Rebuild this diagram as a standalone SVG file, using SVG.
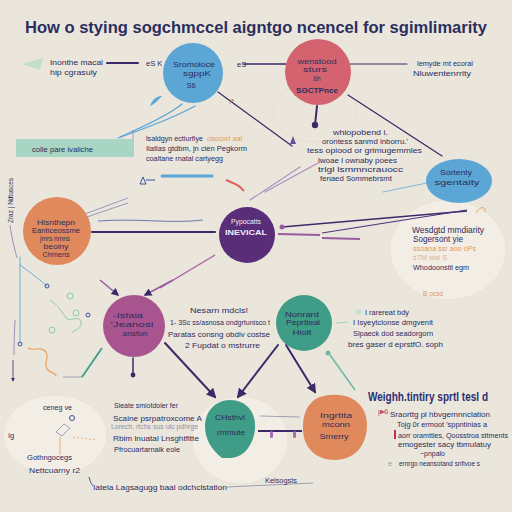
<svg xmlns="http://www.w3.org/2000/svg" width="512" height="512" viewBox="0 0 512 512">
<defs>
<style>
.t{font-family:"Liberation Sans",Arial,sans-serif;fill:#2b2d5c;font-size:7.5px}
.tl{font-family:"Liberation Sans",Arial,sans-serif;fill:#8e8fb0;font-size:7px}
.to{font-family:"Liberation Sans",Arial,sans-serif;fill:#e3965e;font-size:7.5px}
.nt{font-family:"Liberation Sans",Arial,sans-serif;fill:#2b2d5c;font-size:7.5px;text-anchor:middle}
.wt{font-family:"Liberation Sans",Arial,sans-serif;fill:#f3eef8;font-size:7.5px;text-anchor:middle}
.blob{fill:#f3eee5;stroke:#e6dfd3;stroke-width:0.8}
.dk{stroke:#3b2a6a;fill:none;stroke-linecap:round}
.lb{stroke:#5ba6d5;fill:none;stroke-linecap:round}
.lp{stroke:#a98fc2;fill:none;stroke-linecap:round}
</style>
<marker id="ah" viewBox="0 0 10 10" refX="8" refY="5" markerWidth="5" markerHeight="5" orient="auto-start-reverse">
<path d="M0,0 L10,5 L0,10 z" fill="#3b2a6a"/>
</marker>
<marker id="dot" viewBox="0 0 10 10" refX="5" refY="5" markerWidth="4" markerHeight="4">
<circle cx="5" cy="5" r="4" fill="#3b2a6a"/>
</marker>
</defs>
<rect width="512" height="512" fill="#ebe6dc"/>

<!-- background blobs -->
<g id="blobs">
<ellipse class="blob" cx="55" cy="435" rx="52" ry="40"/>
<ellipse class="blob" cx="240" cy="440" rx="48" ry="44"/>
<ellipse class="blob" cx="448" cy="250" rx="58" ry="50"/>
<ellipse cx="315" cy="112" rx="42" ry="30" fill="none" stroke="#e3dccf" stroke-width="0.8"/>
</g>

<text x="25" y="33" style="font-family:'Liberation Sans',Arial,sans-serif;font-size:16.5px;font-weight:bold;fill:#2b2f60" textLength="462" lengthAdjust="spacingAndGlyphs">How o stying sogchmccel aigntgo ncencel for sgimlimarity</text>

<!-- connectors -->
<g id="connectors">
<path d="M22,64 L43,58 L40,70 Z" fill="#b7dcc9" opacity="0.8"/>
<line class="dk" x1="107" y1="63" x2="138" y2="63" stroke-width="2"/>
<line class="dk" x1="244" y1="64" x2="286" y2="64" stroke-width="1.5"/>
<line class="dk" x1="350" y1="64" x2="407" y2="64" stroke-width="1.2"/>
<line class="dk" x1="218" y1="92" x2="292" y2="146" stroke-width="1.3"/>
<line class="dk" x1="348" y1="95" x2="442" y2="156" stroke-width="1.3"/>
<line class="dk" x1="317" y1="106" x2="315" y2="125" stroke-width="2" marker-end="url(#dot)"/>
<path class="lb" d="M195,106 C170,120 140,130 118,138" stroke-width="1.2"/>
<path class="lb" d="M182,104 C165,118 135,130 120,137" stroke-width="1.2"/>
<path d="M150,106 C153,98 158,96 162,96 C158,100 155,104 150,106 Z" fill="#5ba6d5"/>
<line x1="133" y1="130" x2="133" y2="140" stroke="#8a8aa8" stroke-width="0.8"/>
<line class="lb" x1="162" y1="176" x2="212" y2="176" stroke-width="3"/>
<path d="M140,184 L143,177 L146,184 Z" fill="none" stroke="#3a52a0" stroke-width="1"/>
<line x1="146" y1="180" x2="155" y2="180" stroke="#3a52a0" stroke-width="1"/>
<path d="M226,180 C232,183 238,184 241,188 L244,191" stroke="#e06060" stroke-width="2" fill="none"/>
<line class="dk" x1="92" y1="232" x2="215" y2="232" stroke-width="2.2"/>
<path d="M98,221 C140,218 170,224 203,220" stroke="#6b78b0" stroke-width="1" fill="none"/>
<path d="M82,215 L128,198" stroke="#8b8fc0" stroke-width="0.9"/>
<path d="M84,218 L128,203" stroke="#8b8fc0" stroke-width="0.9"/>
<line class="lp" x1="250" y1="200" x2="300" y2="167" stroke-width="1.2"/>
<line x1="160" y1="288" x2="215" y2="255" stroke="#a65a9a" stroke-width="1.2"/>
<line x1="282" y1="227" x2="467" y2="211" stroke="#3b2a6a" stroke-width="1.5"/>
<line x1="322" y1="233" x2="467" y2="210" stroke="#4a3580" stroke-width="1.2"/>
<line x1="278" y1="234" x2="320" y2="235" stroke="#9a5ba0" stroke-width="2.2"/>
<line x1="322" y1="238" x2="360" y2="239" stroke="#9a5ba0" stroke-width="2.2"/>
<circle cx="282" cy="227" r="2.5" fill="#9a5ba0"/>
<line class="lp" x1="265" y1="192" x2="318" y2="163" stroke-width="1.2"/>
<line class="lb" x1="383" y1="192" x2="427" y2="183" stroke-width="1.2" stroke-opacity="0.7"/>
<path d="M476,213 C480,206 486,206 485,212" stroke="#e8a060" fill="none" stroke-width="1"/>
<line x1="100" y1="280" x2="118" y2="295" stroke="#9a5ba0" stroke-width="1.6" marker-end="url(#ah)"/>
<line x1="173" y1="280" x2="145" y2="295" stroke="#9a5ba0" stroke-width="1.6" marker-end="url(#ah)"/>
<line class="dk" x1="133" y1="358" x2="133" y2="375" stroke-width="1.5" marker-end="url(#dot)"/>
<line x1="102" y1="348" x2="82" y2="377" stroke="#3f9c86" stroke-width="1.8"/>
<line x1="82" y1="377" x2="63" y2="377" stroke="#8a8aa8" stroke-width="0.8"/>
<line class="lb" x1="20" y1="257" x2="20" y2="343" stroke-width="0.9"/>
<path class="lb" d="M20,265 C30,272 40,280 47,286" stroke-width="0.9"/>
<circle cx="47" cy="286" r="2" fill="none" stroke="#3a52a0"/>
<circle cx="20" cy="344" r="2" fill="none" stroke="#3a52a0"/>
<circle cx="88" cy="315" r="2" fill="none" stroke="#3a52a0"/>
<path d="M50,300 C58,305 62,312 66,318 C70,322 76,316 80,320 C84,325 78,330 72,332" stroke="#8ccbb0" stroke-width="1" fill="none"/>
<circle cx="70" cy="296" r="3" fill="none" stroke="#8ccbb0"/>
<circle cx="76" cy="313" r="3" fill="none" stroke="#8ccbb0"/>
<circle cx="52" cy="330" r="3" fill="none" stroke="#8ccbb0"/>
<path d="M28,348 C34,352 40,345 46,352 C50,358 42,364 48,370 C52,374 56,372 56,376" stroke="#e8a060" stroke-width="1.2" fill="none"/>
<line x1="13" y1="360" x2="13" y2="381" stroke="#3b2a6a" stroke-width="0.8" marker-end="url(#ah)"/>
<path d="M15,320 C14,340 14,350 14,355" stroke="#7a6aa8" stroke-width="0.7" fill="none"/>
<path d="M10,225 C12,240 15,250 17,258" stroke="#7a6aa8" stroke-width="0.7" fill="none"/>
<line class="dk" x1="165" y1="343" x2="215" y2="397" stroke-width="2" marker-end="url(#ah)"/>
<line class="dk" x1="278" y1="345" x2="238" y2="397" stroke-width="2" marker-end="url(#ah)"/>
<line class="dk" x1="286" y1="345" x2="315" y2="392" stroke-width="2" marker-end="url(#ah)"/>
<line x1="330" y1="355" x2="355" y2="390" stroke="#6fb8a5" stroke-width="1.5"/>
<circle cx="328" cy="353" r="2.5" fill="#6fb8a5"/>
<line x1="260" y1="416" x2="300" y2="417" stroke="#8a8aa8" stroke-width="0.8"/>
<line x1="258" y1="431" x2="302" y2="431" stroke="#3b2a6a" stroke-width="1.8"/>
<rect x="270" y="431" width="3" height="7" rx="1.5" fill="#b06ab0"/>
<rect x="293" y="431" width="3" height="7" rx="1.5" fill="#b06ab0"/>
<line x1="227" y1="487" x2="313" y2="483" stroke="#8a8aa8" stroke-width="0.8"/>
<path d="M89,477 C90,481 91,484 93,486" stroke="#3b2a6a" stroke-width="0.8" fill="none"/>
<line x1="60" y1="437" x2="60" y2="455" stroke="#e8a060" stroke-width="0.8"/>
<line x1="73" y1="437" x2="97" y2="440" stroke="#e8a060" stroke-width="0.8" stroke-dasharray="2,2"/>
<path d="M380,410 L386,412 L380,414" fill="#c05070"/>
<rect x="394" y="430" width="2" height="9" fill="#c03060"/>
<path d="M290,144 L293,136 L296,144 Z" fill="#6a4a9a"/>
</g>

<!-- nodes -->
<g id="node-blue-top">
<circle cx="193" cy="73" r="30" fill="#5ba6d5"/>
<text class="nt" x="194" y="67" textLength="42" lengthAdjust="spacingAndGlyphs">Sromoloce</text>
<text class="nt" x="197" y="76" textLength="28" lengthAdjust="spacingAndGlyphs">sgppK</text>
<text class="nt" x="191" y="88">S6</text>
</g>
<g id="node-pink">
<circle cx="318" cy="72" r="33" fill="#d5636f"/>
<text class="nt" x="317" y="64" style="font-size:6.5px" textLength="39" lengthAdjust="spacingAndGlyphs">wenstood</text>
<text class="nt" x="315" y="72" style="font-size:6.5px" textLength="24" lengthAdjust="spacingAndGlyphs">sturs</text>
<text class="nt" x="317" y="81" style="font-size:6.5px">bh</text>
<text class="nt" x="317" y="93" font-weight="bold" textLength="42" lengthAdjust="spacingAndGlyphs">SGCTPnce</text>
</g>
<g id="node-blue-right">
<ellipse cx="459" cy="181" rx="33" ry="22" fill="#5ba6d5"/>
<text class="nt" x="456" y="175" textLength="32" lengthAdjust="spacingAndGlyphs">Sortenty</text>
<text class="nt" x="457" y="185" textLength="45" lengthAdjust="spacingAndGlyphs">sgentaity</text>
</g>
<g id="node-orange-left">
<circle cx="57" cy="231" r="34" fill="#e0895c"/>
<text class="nt" x="56" y="225" textLength="38" lengthAdjust="spacingAndGlyphs">Hisnthepn</text>
<text class="nt" x="56" y="233" textLength="48" lengthAdjust="spacingAndGlyphs">Eanticeossme</text>
<text class="nt" x="55" y="241" textLength="30" lengthAdjust="spacingAndGlyphs">jrnrs nrnns</text>
<text class="nt" x="56" y="249" textLength="25" lengthAdjust="spacingAndGlyphs">beoiny</text>
<text class="nt" x="56" y="257" textLength="27" lengthAdjust="spacingAndGlyphs">Chrnens</text>
</g>
<g id="node-purple">
<circle cx="247" cy="235" r="28" fill="#5a2d78"/>
<text class="wt" x="246" y="224" textLength="30" lengthAdjust="spacingAndGlyphs">Pypocatts</text>
<text class="wt" x="246" y="235" font-weight="bold" textLength="42" lengthAdjust="spacingAndGlyphs">INEVICAL</text>
</g>
<g id="node-magenta">
<circle cx="134" cy="326" r="31" fill="#a8558f"/>
<text class="nt" x="128" y="318" textLength="30" lengthAdjust="spacingAndGlyphs">-Isfaia</text>
<text class="nt" x="132" y="327" textLength="43" lengthAdjust="spacingAndGlyphs">'Jeanosi</text>
<text class="nt" x="135" y="336" textLength="25" lengthAdjust="spacingAndGlyphs">ansfon</text>
</g>
<g id="node-teal">
<circle cx="304" cy="323" r="28" fill="#3f9c86"/>
<text class="nt" x="302" y="317" textLength="34" lengthAdjust="spacingAndGlyphs">Nonrard</text>
<text class="nt" x="303" y="325" textLength="34" lengthAdjust="spacingAndGlyphs">Peprtteal</text>
<text class="nt" x="302" y="335" textLength="19" lengthAdjust="spacingAndGlyphs">Hiolt</text>
</g>
<g id="node-teal-bottom">
<path d="M230,400 C246,400 256,412 255,428 C254,444 244,458 230,458 L222,458 C212,450 205,440 205,426 C205,411 216,400 230,400 Z" fill="#3f9c86"/>
<text class="nt" x="230" y="420" textLength="30" lengthAdjust="spacingAndGlyphs">CHsthvl</text>
<text class="nt" x="231" y="435" textLength="28" lengthAdjust="spacingAndGlyphs">rmmute</text>
</g>
<g id="node-orange-bottom">
<path d="M330,395 C352,393 367,405 367,425 C367,446 354,460 335,460 C316,460 303,448 303,428 C303,408 312,396 330,395 Z" fill="#e0895c"/>
<text class="nt" x="336" y="418" textLength="32" lengthAdjust="spacingAndGlyphs">Ingrtita</text>
<text class="nt" x="336" y="427" textLength="28" lengthAdjust="spacingAndGlyphs">mconn</text>
<text class="nt" x="334" y="439" textLength="29" lengthAdjust="spacingAndGlyphs">Srnerry</text>
</g>
<g id="node-green-box">
<rect x="16" y="139" width="118" height="18" fill="#a9d5c5"/>
<text class="t" x="32" y="152" textLength="61" lengthAdjust="spacingAndGlyphs">colle pare ivaliche</text>
</g>

<!-- free texts -->
<g id="labels">
<text class="t" x="50" y="65" textLength="53" lengthAdjust="spacingAndGlyphs">Inonthe macal</text>
<text class="t" x="50" y="75" textLength="47" lengthAdjust="spacingAndGlyphs">hip cgrasuly</text>
<text class="t" x="146" y="66">eS K</text>
<text class="t" x="237" y="67">eS</text>
<text class="t" x="228" y="104" style="fill:#d07a40">↗</text>
<text class="t" x="417" y="66" textLength="56" lengthAdjust="spacingAndGlyphs">lemyde mt ecoral</text>
<text class="t" x="413" y="76" textLength="58" lengthAdjust="spacingAndGlyphs">Nluwentenrrity</text>

<text class="t" x="146" y="141" textLength="57" lengthAdjust="spacingAndGlyphs">lsaldgyn ectiurfiye</text>
<text class="to" x="207" y="141" textLength="35" lengthAdjust="spacingAndGlyphs">osocort aal</text>
<text class="t" x="146" y="151" textLength="101" lengthAdjust="spacingAndGlyphs">Ilatlas gtdbm, jn cien Pegkorm</text>
<text class="t" x="146" y="161" textLength="77" lengthAdjust="spacingAndGlyphs">coaltane rnatal cartyegg</text>

<text class="t" x="333" y="135" textLength="55" lengthAdjust="spacingAndGlyphs">whiopobend i.</text>
<text class="t" x="322" y="144" textLength="86" lengthAdjust="spacingAndGlyphs">orontess sanmd inborru.'</text>
<text class="t" x="307" y="153" textLength="115" lengthAdjust="spacingAndGlyphs">tess opiood or grimugemmles</text>
<text class="t" x="318" y="163" textLength="79" lengthAdjust="spacingAndGlyphs">lwoae l ownaby poees</text>
<text class="t" x="318" y="172" textLength="85" lengthAdjust="spacingAndGlyphs">trlgl lsmmncrauocc</text>
<text class="to" x="310" y="172">'</text>
<text class="t" x="320" y="181" textLength="72" lengthAdjust="spacingAndGlyphs">fenaed Sommebrsmt</text>

<text class="t" x="412" y="233" textLength="72" lengthAdjust="spacingAndGlyphs" style="font-size:8.5px">Wesdgtd mmdiarity</text>
<text class="t" x="413" y="242" textLength="50" lengthAdjust="spacingAndGlyphs" style="font-size:8.5px">Sogersont yie</text>
<text class="to" x="413" y="251" textLength="63" lengthAdjust="spacingAndGlyphs">ssoana ssr aoo oPs</text>
<text class="to" x="413" y="260" textLength="34" lengthAdjust="spacingAndGlyphs" style="opacity:0.7">sTM wai S</text>
<text class="t" x="413" y="270" textLength="56" lengthAdjust="spacingAndGlyphs">Whodoonstil egm</text>
<text class="to" x="423" y="296" textLength="20" lengthAdjust="spacingAndGlyphs">B ocsd</text>

<text class="t" transform="translate(13,223) rotate(-90)" x="0" y="0" textLength="45" lengthAdjust="spacingAndGlyphs">Zraz | Ndtusces</text>

<text class="t" x="190" y="313" textLength="58" lengthAdjust="spacingAndGlyphs">Nesarn mdcls!</text>
<text class="t" x="170" y="325" textLength="100" lengthAdjust="spacingAndGlyphs">1- 3Sc ss/asnosa ondgrtunisco t</text>
<text class="t" x="168" y="337" textLength="102" lengthAdjust="spacingAndGlyphs">Paratas consng obdiv costse</text>
<text class="t" x="185" y="348" textLength="75" lengthAdjust="spacingAndGlyphs">2 Fupdat o mstrurre</text>

<circle cx="359" cy="312" r="3" fill="#c8e2d6"/>
<text class="t" x="365" y="315" textLength="44" lengthAdjust="spacingAndGlyphs">I rarereat bdy</text>
<text class="t" x="353" y="325" textLength="80" lengthAdjust="spacingAndGlyphs">I Isyeytclonse dmgvenit</text>
<text class="t" x="353" y="336" textLength="80" lengthAdjust="spacingAndGlyphs">Slpaeck  dod seadorgorn</text>
<text class="t" x="348" y="347" textLength="95" lengthAdjust="spacingAndGlyphs">bres gaser d eprstfO. soph</text>
<line x1="336" y1="323" x2="348" y2="322" stroke="#8ccbb0" stroke-width="0.8"/>

<text class="t" x="368" y="401" textLength="120" lengthAdjust="spacingAndGlyphs" style="font-size:12px;font-weight:bold;fill:#2b2f70">Weighh.tintiry sprtl tesl d</text>
<text class="t" x="378" y="414" style="fill:#c05070">p 6</text>
<text class="t" x="390" y="417" textLength="100" lengthAdjust="spacingAndGlyphs">Sraorttg pl hbvgernnnclation</text>
<text class="t" x="397" y="427" textLength="90" lengthAdjust="spacingAndGlyphs">Tojg 0r ermoot 'sppntinias a</text>
<text class="t" x="398" y="438" textLength="110" lengthAdjust="spacingAndGlyphs">aorr oramtties, Qoosstroa sttments</text>
<text class="t" x="398" y="447" textLength="93" lengthAdjust="spacingAndGlyphs">emogester sacy tbmulatuy</text>
<text class="t" x="420" y="456" textLength="25" lengthAdjust="spacingAndGlyphs">~pnpalo</text>
<text class="t" x="388" y="466" style="fill:#6fb8a5">e</text>
<text class="t" x="399" y="466" textLength="81" lengthAdjust="spacingAndGlyphs">ernrgo neansotand snfivoe s</text>

<text class="t" x="43" y="410" textLength="29" lengthAdjust="spacingAndGlyphs">ceneg ve</text>
<circle cx="72" cy="418" r="2.5" fill="none" stroke="#3a52a0"/>
<path d="M56,432 L64,424 L70,428 L62,436 Z" fill="none" stroke="#8a8aa8" stroke-width="0.8"/>
<text class="t" x="27" y="460" textLength="45" lengthAdjust="spacingAndGlyphs">Gothngocegs</text>
<text class="t" x="29" y="473" textLength="51" lengthAdjust="spacingAndGlyphs">Nettcuarny r2</text>
<text class="t" x="8" y="438" font-size="6">Ig</text>

<text class="t" x="114" y="408" textLength="64" lengthAdjust="spacingAndGlyphs">Sieate smiotdoler fer</text>
<text class="t" x="113" y="421" textLength="89" lengthAdjust="spacingAndGlyphs">Scaine psrpatroxcome A</text>
<text class="tl" x="111" y="429" textLength="87" lengthAdjust="spacingAndGlyphs">Lorectr, rtchs sus ulc pdhrge</text>
<text class="t" x="113" y="441" textLength="86" lengthAdjust="spacingAndGlyphs">Rbim lnuatal Lnsghtfitte</text>
<text class="t" x="114" y="452" textLength="66" lengthAdjust="spacingAndGlyphs">Pfrocuartarnaik eole</text>
<text class="t" x="93" y="490" textLength="134" lengthAdjust="spacingAndGlyphs">Iatela Lagsagugg baal odchclstation</text>
<text class="t" x="265" y="483" textLength="32" lengthAdjust="spacingAndGlyphs">Kelsogsts</text>
</g>
</svg>
